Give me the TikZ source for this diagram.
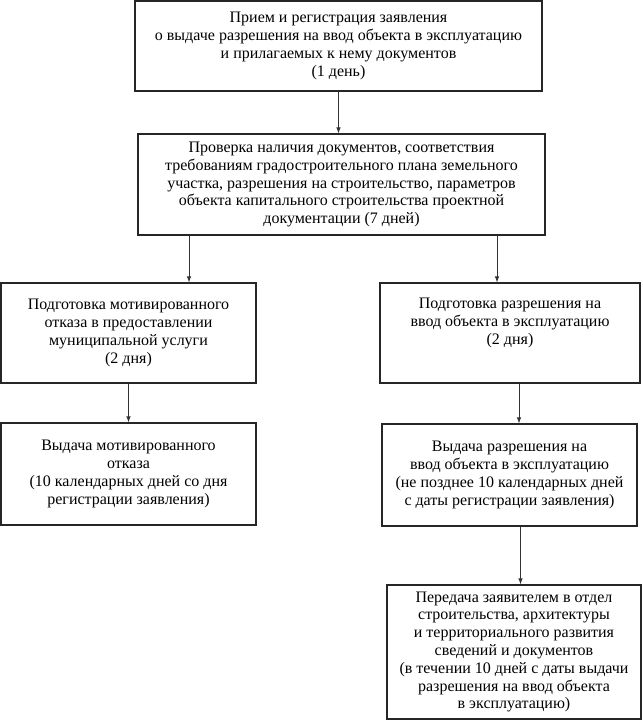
\documentclass[tikz,border=0pt]{standalone}
\usepackage{fontspec}
\setmainfont{Liberation Serif}
\usetikzlibrary{arrows.meta}
\begin{document}
\begin{tikzpicture}[x=1pt,y=-1pt,
  stage/.style={draw=black!85,line width=1.2pt,align=center,inner sep=0pt,
    font=\fontsize{16}{17.8}\selectfont},
  arr/.style={draw=black!80,line width=0.8pt,-{Latex[length=6pt,width=4.5pt]}}]
\useasboundingbox (0,0) rectangle (643,721);
\node[stage,minimum width=407,minimum height=90] (accept) at (338.5,46)
  {Прием и регистрация заявления\\
   о выдаче разрешения на ввод объекта в эксплуатацию\\
   и прилагаемых к нему документов\\
   (1 день)};
\node[stage,minimum width=407,minimum height=101] (check) at (341.5,184.5)
  {Проверка наличия документов, соответствия\\
   требованиям градостроительного плана земельного\\
   участка, разрешения на строительство, параметров\\
   объекта капитального строительства проектной\\
   документации (7 дней)};
\node[stage,minimum width=255,minimum height=100] (refprep) at (128.5,333)
  {Подготовка мотивированного\\
   отказа в предоставлении\\
   муниципальной услуги\\
   (2 дня)};
\node[stage,minimum width=260,minimum height=100] (perprep) at (510,333)
  {Подготовка разрешения на\\
   ввод объекта в эксплуатацию\\
   (2 дня)\\ \strut};
\node[stage,minimum width=255,minimum height=102] (refissue) at (128.5,474)
  {Выдача мотивированного\\
   отказа\\
   (10 календарных дней со дня\\
   регистрации заявления)};
\node[stage,minimum width=255,minimum height=102] (perissue) at (509.5,475)
  {Выдача разрешения на\\
   ввод объекта в эксплуатацию\\
   (не позднее 10 календарных дней\\
   с даты регистрации заявления)};
\node[stage,minimum width=254,minimum height=134] (handover) at (514,652)
  {Передача заявителем в отдел\\
   строительства, архитектуры\\
   и территориального развития\\
   сведений и документов\\
   (в течении 10 дней с даты выдачи\\
   разрешения на ввод объекта\\
   в эксплуатацию)};
\draw[arr] (accept.south) -- (accept.south |- check.north);
\draw[arr] ([xshift=60.5]refprep.north |- check.south) -- ([xshift=60.5]refprep.north);
\draw[arr] ([xshift=-13]perprep.north |- check.south) -- ([xshift=-13]perprep.north);
\draw[arr] (refprep.south) -- (refissue.north);
\draw[arr] ([xshift=9]perprep.south) -- ([xshift=9]perprep.south |- perissue.north);
\draw[arr] ([xshift=11]perissue.south) -- ([xshift=11]perissue.south |- handover.north);
\end{tikzpicture}
\end{document}
